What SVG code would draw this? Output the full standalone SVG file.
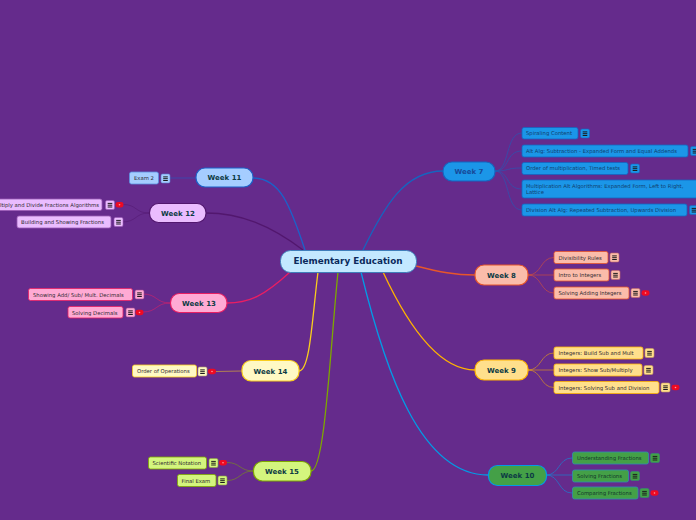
<svg xmlns="http://www.w3.org/2000/svg" width="696" height="520" viewBox="0 0 696 520">
<style>
text{font-family:"DejaVu Sans",Verdana,sans-serif}
.w{font-size:7px;font-weight:bold;text-anchor:middle;fill:#0d3b44}
.c{font-size:5.3px;fill:#2f2a30}
.wk{stroke-width:1.2}
.k{stroke-width:.8}
.l{fill:none;stroke-width:1.3}
.s{fill:none;stroke-width:.8;opacity:.65}
.ic{stroke-width:.6}
.bar{stroke:#1c1c1c;stroke-width:1;fill:none}
.red{fill:#ee0a22}
</style>
<defs>
<g id="bars"><path class="bar" d="M2.200 2.900H6.800M2.200 4.700H6.800M2.200 6.500H6.800"/></g>
<g id="alert"><rect width="8" height="5.400" rx="2.400" class="red"/><circle cx="4" cy="2.700" r=".8" fill="#ff9aa0"/></g>
</defs>
<rect width="696" height="520" fill="#652b8c"/>
<g id="connectors">
<path class="l" stroke="#1565c0" d="M363 250C385 205 405 171 443 171"/>
<path class="l" stroke="#e8562a" d="M416 266C440 272 455 275 475 275"/>
<path class="l" stroke="#ffb300" d="M383 272C410 330 440 370 475 370"/>
<path class="l" stroke="#039be5" d="M361 272C385 370 420 475 488 475"/>
<path class="l" stroke="#1b62c9" d="M305 250C290 205 280 178 253 178"/>
<path class="l" stroke="#52176e" d="M303 250C270 225 240 213 206 213"/>
<path class="l" stroke="#e91e63" d="M290 272C265 295 250 303 227 303"/>
<path class="l" stroke="#f9ce1d" d="M318 272C312 320 310 371 299 371"/>
<path class="l" stroke="#7ea800" d="M338 272C330 350 325 471 311 471"/>
<g stroke="#1565c0">
<path class="s" d="M495 171C510 171 505 133 522 133"/>
<path class="s" d="M495 171C510 171 505 151 522 151"/>
<path class="s" d="M495 171C510 171 505 168 522 168"/>
<path class="s" d="M495 171C510 171 505 189 522 189"/>
<path class="s" d="M495 171C510 171 505 210 522 210"/>
</g>
<g stroke="#e8562a">
<path class="s" d="M528 275C542 275 540 257.500 554 257.500"/>
<path class="s" d="M528 275H554"/>
<path class="s" d="M528 275C542 275 540 293 554 293"/>
</g>
<g stroke="#ffb300">
<path class="s" d="M528 370C542 370 540 353 554 353"/>
<path class="s" d="M528 370H554"/>
<path class="s" d="M528 370C542 370 540 387.500 554 387.500"/>
</g>
<g stroke="#039be5">
<path class="s" d="M546 475C560 475 558 458 572 458"/>
<path class="s" d="M546 475H572"/>
<path class="s" d="M546 475C560 475 558 493 572 493"/>
</g>
<path class="s" stroke="#1b62c9" d="M196 178H170"/>
<g stroke="#52176e">
<path class="s" d="M149 213C135 213 137 204.500 123 204.500"/>
<path class="s" d="M149 213C135 213 137 222 122 222"/>
</g>
<g stroke="#e91e63">
<path class="s" d="M170 303C156 303 157 294 143 294"/>
<path class="s" d="M170 303C156 303 157 312 143 312"/>
</g>
<path class="s" stroke="#f9ce1d" d="M242 371L216 371.500"/>
<g stroke="#7ea800">
<path class="s" d="M253 471C240 471 240 462.500 227 462.500"/>
<path class="s" d="M253 471C240 471 240 480.500 227 480.500"/>
</g>
</g>
<g id="center"><rect x="280.500" y="250.500" width="136" height="22" rx="10" fill="#c3e8ff" stroke="#3f7dba"/><text x="348" y="264.300" font-size="8.800" font-weight="bold" text-anchor="middle" fill="#0b2a5c">Elementary Education</text></g>
<g id="week7"><rect class="wk" x="443" y="162" width="52" height="19" rx="9" fill="#1b96e8" stroke="#1565c0"/><text class="w" x="469" y="174" style="fill:#174a9a">Week 7</text></g>
<g id="n7a"><rect class="k" x="522" y="127.500" width="56" height="11.500" rx="2" fill="#1b96e8" stroke="#1565c0"/><text class="c" x="526" y="135" style="fill:#123f6e">Spiraling Content</text><rect class="ic" x="580.500" y="129" width="9" height="9" rx="1.500" fill="#1b96e8" stroke="#1565c0"/><use href="#bars" x="580.500" y="129"/></g>
<g id="n7b"><rect class="k" x="522" y="145" width="166" height="12" rx="2" fill="#1b96e8" stroke="#1565c0"/><text class="c" x="526" y="153" style="fill:#123f6e">Alt Alg: Subtraction - Expanded Form and Equal Addends</text><rect class="ic" x="690.500" y="146.500" width="9" height="9" rx="1.500" fill="#1b96e8" stroke="#1565c0"/><use href="#bars" x="690.500" y="146.500"/></g>
<g id="n7c"><rect class="k" x="522" y="162.500" width="106" height="12" rx="2" fill="#1b96e8" stroke="#1565c0"/><text class="c" x="526" y="170" style="fill:#123f6e">Order of multiplication, Timed tests</text><rect class="ic" x="630.500" y="164" width="9" height="9" rx="1.500" fill="#1b96e8" stroke="#1565c0"/><use href="#bars" x="630.500" y="164"/></g>
<g id="n7d"><rect class="k" x="522" y="180" width="180" height="18" rx="2" fill="#1b96e8" stroke="#1565c0"/><text class="c" x="526" y="188" style="fill:#123f6e">Multiplication Alt Algorithms: Expanded Form, Left to Right,<tspan x="526" dy="6">Lattice</tspan></text></g>
<g id="n7e"><rect class="k" x="522" y="204" width="165" height="12" rx="2" fill="#1b96e8" stroke="#1565c0"/><text class="c" x="526" y="212" style="fill:#123f6e">Division Alt Alg: Repeated Subtraction, Upwards Division</text><rect class="ic" x="689.500" y="205.500" width="9" height="9" rx="1.500" fill="#1b96e8" stroke="#1565c0"/><use href="#bars" x="689.500" y="205.500"/></g>
<g id="week8"><rect class="wk" x="475" y="265" width="53" height="20" rx="9" fill="#fbbcaa" stroke="#e8562a"/><text class="w" x="501.500" y="277.500">Week 8</text></g>
<g id="n8a"><rect class="k" x="554" y="251.500" width="54" height="12" rx="2" fill="#fbbcaa" stroke="#e8562a"/><text class="c" x="558.500" y="259.500">Divisibility Rules</text><rect class="ic" x="610" y="253" width="9" height="9" rx="1.500" fill="#fbbcaa" stroke="#c56a6a"/><use href="#bars" x="610" y="253"/></g>
<g id="n8b"><rect class="k" x="554" y="269" width="55" height="12" rx="2" fill="#fbbcaa" stroke="#e8562a"/><text class="c" x="558.500" y="277">Intro to Integers</text><rect class="ic" x="611" y="270.500" width="9" height="9" rx="1.500" fill="#fbbcaa" stroke="#c56a6a"/><use href="#bars" x="611" y="270.500"/></g>
<g id="n8c"><rect class="k" x="554" y="287" width="75" height="12" rx="2" fill="#fbbcaa" stroke="#e8562a"/><text class="c" x="558.500" y="295">Solving Adding Integers</text><rect class="ic" x="631" y="288.500" width="9" height="9" rx="1.500" fill="#fbbcaa" stroke="#c56a6a"/><use href="#bars" x="631" y="288.500"/><use href="#alert" x="641.500" y="290.300"/></g>
<g id="week9"><rect class="wk" x="475" y="360" width="53" height="20" rx="9" fill="#ffdf8c" stroke="#ffb300"/><text class="w" x="501.500" y="372.500">Week 9</text></g>
<g id="n9a"><rect class="k" x="554" y="347" width="89" height="12" rx="2" fill="#ffdf8c" stroke="#ffb300"/><text class="c" x="558.500" y="355">Integers: Build Sub and Mult</text><rect class="ic" x="645" y="348.500" width="9" height="9" rx="1.500" fill="#ffdf8c" stroke="#c9a060"/><use href="#bars" x="645" y="348.500"/></g>
<g id="n9b"><rect class="k" x="554" y="364" width="88" height="12" rx="2" fill="#ffdf8c" stroke="#ffb300"/><text class="c" x="558.500" y="372">Integers: Show Sub/Multiply</text><rect class="ic" x="644" y="365.500" width="9" height="9" rx="1.500" fill="#ffdf8c" stroke="#c9a060"/><use href="#bars" x="644" y="365.500"/></g>
<g id="n9c"><rect class="k" x="554" y="381.500" width="105" height="12" rx="2" fill="#ffdf8c" stroke="#ffb300"/><text class="c" x="558.500" y="389.500">Integers: Solving Sub and Division</text><rect class="ic" x="661" y="383" width="9" height="9" rx="1.500" fill="#ffdf8c" stroke="#c9a060"/><use href="#bars" x="661" y="383"/><use href="#alert" x="671.500" y="384.800"/></g>
<g id="week10"><rect class="wk" x="488.500" y="465.500" width="58" height="20" rx="9" fill="#44a047" stroke="#039be5"/><text class="w" x="517.500" y="478">Week 10</text></g>
<g id="n10a"><rect class="k" x="572.500" y="452" width="76" height="12" rx="2" fill="#44a047" stroke="#2f8fb0"/><text class="c" x="577" y="460" style="fill:#12352a">Understanding Fractions</text><rect class="ic" x="650.500" y="453.500" width="9" height="9" rx="1.500" fill="#44a047" stroke="#2f8f70"/><use href="#bars" x="650.500" y="453.500"/></g>
<g id="n10b"><rect class="k" x="572.500" y="470" width="56" height="12" rx="2" fill="#44a047" stroke="#2f8fb0"/><text class="c" x="577" y="478" style="fill:#12352a">Solving Fractions</text><rect class="ic" x="630.500" y="471.500" width="9" height="9" rx="1.500" fill="#44a047" stroke="#2f8f70"/><use href="#bars" x="630.500" y="471.500"/></g>
<g id="n10c"><rect class="k" x="572.500" y="487" width="65.500" height="12" rx="2" fill="#44a047" stroke="#2f8fb0"/><text class="c" x="577" y="495" style="fill:#12352a">Comparing Fractions</text><rect class="ic" x="640" y="488.500" width="9" height="9" rx="1.500" fill="#44a047" stroke="#2f8f70"/><use href="#bars" x="640" y="488.500"/><use href="#alert" x="650.500" y="490.300"/></g>
<g id="week11"><rect class="wk" x="196" y="168" width="57" height="19" rx="9" fill="#a5cdff" stroke="#1b62c9"/><text class="w" x="224.500" y="180">Week 11</text></g>
<g id="n11a"><rect class="k" x="129.500" y="172" width="29" height="12" rx="2" fill="#a5cdff" stroke="#5a8fe0"/><text class="c" x="134" y="180">Exam 2</text><rect class="ic" x="161" y="174" width="9" height="9" rx="1.500" fill="#a5cdff" stroke="#5a7fd0"/><use href="#bars" x="161" y="174"/></g>
<g id="week12"><rect class="wk" x="149.500" y="203.500" width="56.500" height="19" rx="9" fill="#eabcff" stroke="#52176e"/><text class="w" x="178" y="216">Week 12</text></g>
<g id="n12a"><rect class="k" x="-20" y="199" width="122" height="11.500" rx="2" fill="#eabcff" stroke="#9a5ab5"/><text class="c" x="99" y="206.500" text-anchor="end">Multiply and Divide Fractions Algorithms</text><rect class="ic" x="105.500" y="200.500" width="9" height="9" rx="1.500" fill="#eabcff" stroke="#9a5ab5"/><use href="#bars" x="105.500" y="200.500"/><use href="#alert" x="115.500" y="202"/></g>
<g id="n12b"><rect class="k" x="17" y="216" width="94" height="12" rx="2" fill="#eabcff" stroke="#9a5ab5"/><text class="c" x="21" y="224">Building and Showing Fractions</text><rect class="ic" x="114" y="217.500" width="9" height="9" rx="1.500" fill="#eabcff" stroke="#9a5ab5"/><use href="#bars" x="114" y="217.500"/></g>
<g id="week13"><rect class="wk" x="170.500" y="293.500" width="56.500" height="19" rx="9" fill="#ffaad4" stroke="#e91e63"/><text class="w" x="199" y="306">Week 13</text></g>
<g id="n13a"><rect class="k" x="28.500" y="288.500" width="104" height="12" rx="2" fill="#ffaad4" stroke="#e91e63"/><text class="c" x="33" y="296.500">Showing Add/ Sub/ Mult. Decimals</text><rect class="ic" x="135" y="290" width="9" height="9" rx="1.500" fill="#ffaad4" stroke="#a04a90"/><use href="#bars" x="135" y="290"/></g>
<g id="n13b"><rect class="k" x="68" y="306.500" width="55" height="11.500" rx="2" fill="#ffaad4" stroke="#e91e63"/><text class="c" x="72" y="314.500">Solving Decimals</text><rect class="ic" x="126" y="308" width="9" height="9" rx="1.500" fill="#ffaad4" stroke="#a04a90"/><use href="#bars" x="126" y="308"/><use href="#alert" x="135.500" y="309.800"/></g>
<g id="week14"><rect class="wk" x="242" y="360.500" width="57" height="20.500" rx="9" fill="#fff9c4" stroke="#f9ce1d"/><text class="w" x="270.500" y="373.500">Week 14</text></g>
<g id="n14a"><rect class="k" x="132.500" y="365" width="64" height="12" rx="2" fill="#fff9c4" stroke="#f9ce1d"/><text class="c" x="137" y="373">Order of Operations</text><rect class="ic" x="198" y="367" width="9" height="9" rx="1.500" fill="#fff9c4" stroke="#b0a070"/><use href="#bars" x="198" y="367"/><use href="#alert" x="208" y="368.800"/></g>
<g id="week15"><rect class="wk" x="253.500" y="461.500" width="57.500" height="19.500" rx="9" fill="#d4f57e" stroke="#7ea800"/><text class="w" x="282" y="474">Week 15</text></g>
<g id="n15a"><rect class="k" x="148.500" y="457" width="58" height="12" rx="2" fill="#d4f57e" stroke="#7ea800"/><text class="c" x="152.500" y="465">Scientific Notation</text><rect class="ic" x="209" y="458.500" width="9" height="9" rx="1.500" fill="#d4f57e" stroke="#88a040"/><use href="#bars" x="209" y="458.500"/><use href="#alert" x="219" y="460"/></g>
<g id="n15b"><rect class="k" x="177.500" y="474.500" width="38.500" height="12" rx="2" fill="#d4f57e" stroke="#7ea800"/><text class="c" x="181.500" y="482.500">Final Exam</text><rect class="ic" x="218" y="476" width="9" height="9" rx="1.500" fill="#d4f57e" stroke="#88a040"/><use href="#bars" x="218" y="476"/></g>
</svg>
